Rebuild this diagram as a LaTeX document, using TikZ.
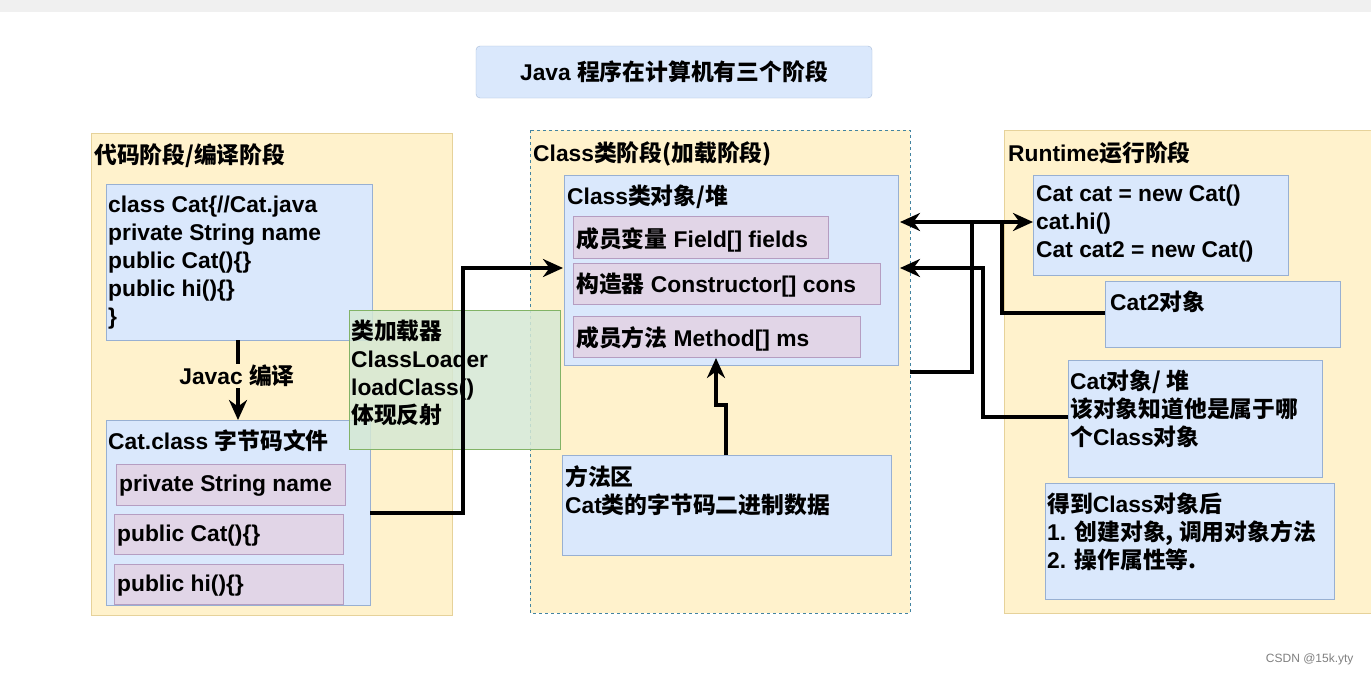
\documentclass[tikz,border=0pt]{standalone}
\usepackage{fontspec}
\setmainfont{Liberation Sans}
\newfontfamily\cjk{Noto Sans CJK SC}
\usetikzlibrary{arrows.meta}
\definecolor{yel}{HTML}{FFF2CC}\definecolor{yelb}{HTML}{E6D29A}
\definecolor{blu}{HTML}{DAE8FC}\definecolor{blub}{HTML}{6C8EBF}
\definecolor{pur}{HTML}{E1D5E7}\definecolor{purb}{HTML}{9673A6}
\definecolor{grn}{HTML}{D5E8D4}\definecolor{grnb}{HTML}{82B366}
\newcommand{\C}[1]{{\cjk\bfseries #1}}
\begin{document}
\begin{tikzpicture}[x=1pt,y=-1pt,
 txt/.style={font=\fontsize{22.8}{28}\selectfont\bfseries,align=left,anchor=north west,inner sep=0pt},
 panel/.style={fill=yel,draw=yelb},
 bb/.style={fill=blu,draw=blub!70},
 pp/.style={fill=pur,draw=purb!70},
 con/.style={line width=4pt},
 arr/.style={con,-{Stealth[length=20pt,width=18pt]}}]
\useasboundingbox (0,0) rectangle (1371,675);
\fill[white] (0,0) rectangle (1371,675);
\fill[gray!12] (0,0) rectangle (1371,12);
% title
\node[draw=blub!60,fill=blu,rounded corners=4pt,minimum width=396pt,minimum height=52pt,font=\fontsize{22.8}{24}\selectfont\bfseries] (title) at (674,72) {Java \C{程序在计算机有三个阶段}};
% panels
\draw[panel] (91,133) rectangle (452,615);
\node[txt] (p1) at (94,143) {\C{代码阶段/编译阶段}};
\draw[panel,draw=cyan!60!black,dashed] (530,130) rectangle (910,613);
\node[txt] (p2) at (533,141) {Class\C{类阶段(加载阶段)}};
\draw[panel] (1004,130) rectangle (1375,613);
\node[txt] (p3) at (1008,141) {Runtime\C{运行阶段}};
% code
\draw[bb] (106,184) rectangle (372,340);
\coordinate (codeb) at (238,340);
\node[txt] (code) at (108,196) {class Cat\{//Cat.java\\private String name\\public Cat()\{\}\\public hi()\{\}\\\}};
\draw[bb] (106,420) rectangle (370,605);
\coordinate (clst) at (238,420);
\coordinate (clsr) at (370,513);
\node[txt] (cls) at (108,430) {Cat.class \C{字节码文件}};
\draw[pp] (116,464) rectangle (345,505); \node[txt] (c1) at (119,475) {private String name};
\draw[pp] (114,514) rectangle (343,554); \node[txt] (c2) at (117,525) {public Cat()\{\}};
\draw[pp] (114,564) rectangle (343,604); \node[txt] (c3) at (117,575) {public hi()\{\}};
\draw[arr] (codeb) -- (clst);
\node[font=\fontsize{22.8}{24}\selectfont\bfseries,fill=yel,inner sep=1pt] (jv) at (237,376) {Javac \C{编译}};
% class object
\draw[bb] (564,175) rectangle (898,365);
\node[txt] (co) at (567,185) {Class\C{类对象/堆}};
\draw[pp] (573,216) rectangle (828,258); \node[txt] (f1) at (576,227) {\C{成员变量} Field[] fields};
\draw[pp] (573,263) rectangle (880,304); \node[txt] (f2) at (576,273) {\C{构造器} Constructor[] cons};
\draw[pp] (573,316) rectangle (860,357); \node[txt] (f3) at (576,326) {\C{成员方法} Method[] ms};
\draw[bb] (562,455) rectangle (891,555);
\node[txt] (ma) at (565,465) {\C{方法区}\\Cat\C{类的字节码二进制数据}};
% green loader
\draw[fill=grn,draw=grnb,fill opacity=0.85] (349,310) rectangle (560,449);
\node[txt] (ld) at (351,320) {\C{类加载器}\\ClassLoader\\loadClass()\\\C{体现反射}};
\coordinate (loadin) at (563,268);
\draw[arr] (clsr) -- (463,513) -- (463,268) -- (loadin);
\draw[arr] (726,455) -- (726,405) -- (716,405) -- (716,358);
% runtime
\draw[bb] (1033,175) rectangle (1288,275);
\node[txt] (rt) at (1036,185) {Cat cat = new Cat()\\cat.hi()\\Cat cat2 = new Cat()};
\draw[bb] (1105,281) rectangle (1340,347);
\node[txt] (c2o) at (1110,291) {Cat2\C{对象}};
\draw[bb] (1068,360) rectangle (1322,477);
\node[txt] (co1) at (1070,370) {Cat\C{对象/ 堆}\\\C{该对象知道他是属于哪}\\\C{个}Class\C{对象}};
\draw[bb] (1045,483) rectangle (1334,599);
\node[txt] (get) at (1047,493) {\C{得到}Class\C{对象后}\\1. \C{创建对象, 调用对象方法}\\2. \C{操作属性等.}};
\draw[con] (910,372) -- (972,372) -- (972,222);
\draw[con] (1105,313) -- (1002,313) -- (1002,222);
\draw[con,{Stealth[length=20pt,width=18pt]}-{Stealth[length=20pt,width=18pt]}] (900,222) -- (1033,222);
\draw[arr] (1068,417) -- (983,417) -- (983,268) -- (900,268);
\node[font=\fontsize{12}{12}\selectfont,text=gray,anchor=east] (wm) at (1357,659) {CSDN @15k.yty};
\end{tikzpicture}
\end{document}
